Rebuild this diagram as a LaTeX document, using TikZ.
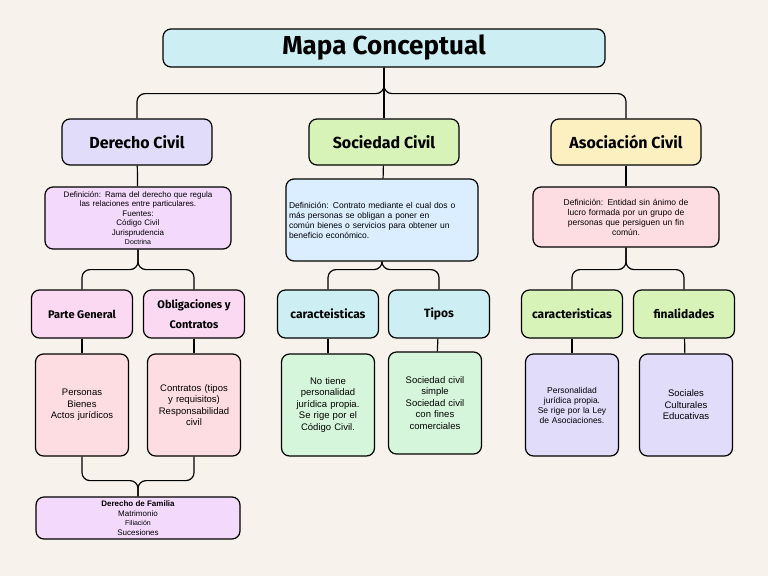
\documentclass[tikz,border=0pt]{standalone}
\usepackage{fontspec}
\setmainfont{Liberation Sans}
\newfontfamily\headfont{Fira Sans}
\usetikzlibrary{positioning,calc}
\definecolor{bgpaper}{HTML}{F7F3EC}
\definecolor{cyanfill}{HTML}{CDEFF3}
\definecolor{lavfill}{HTML}{E2DCFB}
\definecolor{greenfill}{HTML}{D8F3B8}
\definecolor{yellowfill}{HTML}{FDF0C0}
\definecolor{lilacfill}{HTML}{F3D9FB}
\definecolor{bluefill}{HTML}{DBEEFF}
\definecolor{rosefill}{HTML}{FDDDE2}
\definecolor{pinkfill}{HTML}{FBD9F3}
\definecolor{mintfill}{HTML}{D6F6DC}
\hyphenpenalty=10000
\exhyphenpenalty=10000
\begin{document}
\begin{tikzpicture}[
    x=1pt, y=-1pt,
    box/.style={rectangle, draw=black, line width=1.2pt, rounded corners=8pt, align=center, inner sep=2pt},
    head/.style={box, minimum width=150pt, minimum height=46pt, font=\headfont\bfseries\fontsize{16}{19}\selectfont},
    sub/.style={box, minimum width=101pt, minimum height=48pt, font=\headfont\bfseries\fontsize{12}{14}\selectfont},
    leaf/.style={box, minimum width=93pt, minimum height=102pt, text width=80pt, font=\fontsize{9.5}{11.5}\selectfont},
    defbox/.style={box, font=\fontsize{8.5}{10}\selectfont},
    link/.style={line width=1.2pt, rounded corners=8pt},
]
\fill[bgpaper] (0,0) rectangle (768,576);
\useasboundingbox (0,0) rectangle (768,576);

% Title
\node[box, fill=cyanfill, minimum width=442pt, minimum height=38pt, font=\headfont\bfseries\fontsize{26}{30}\selectfont] (title) at (384,48) {Mapa Conceptual};

% Level 1
\node[head, fill=lavfill] (dcivil) at (137,142) {Derecho Civil};
\node[head, fill=greenfill] (scivil) at (384,142) {Sociedad Civil};
\node[head, fill=yellowfill] (acivil) at (626,142) {Asociación Civil};

% Definitions
\node[defbox, fill=lilacfill, minimum width=186pt, minimum height=62pt, text width=182pt, font=\fontsize{8}{9.5}\selectfont] (dcdef) at (138,218)
    {Definición: Rama del derecho que regula\\las relaciones entre particulares.\\Fuentes:\\Código Civil\\Jurisprudencia\\{\fontsize{7}{8}\selectfont Doctrina}};
\node[defbox, fill=bluefill, minimum width=192pt, minimum height=82pt, text width=186pt, align=left] (scdef) at (382,220)
    {Definición: Contrato mediante el cual dos o\\más personas se obligan a poner en\\común bienes o servicios para obtener un\\beneficio económico.\\[22pt]};
\node[defbox, fill=rosefill, minimum width=186pt, minimum height=60pt, text width=150pt] (acdef) at (626,217)
    {Definición: Entidad sin ánimo de\\lucro formada por un grupo de\\personas que persiguen un fin\\común.};

% Level 2
\node[sub, fill=pinkfill, font=\headfont\bfseries\fontsize{11}{20}\selectfont] (parte) at (82,314) {Parte General};
\node[sub, fill=pinkfill, font=\headfont\bfseries\fontsize{11}{20}\selectfont] (oblig) at (194,314) {Obligaciones y\\Contratos};
\node[sub, fill=cyanfill] (scaract) at (328,314) {caracteisticas};
\node[sub, fill=cyanfill, text height=9pt, text depth=3pt] (tipos) at (439,314) {Tipos};
\node[sub, fill=greenfill] (acaract) at (572,314) {caracteristicas};
\node[sub, fill=greenfill] (final) at (684,314) {finalidades};

% Level 3
\node[leaf, fill=rosefill] (personas) at (82,405) {Personas\\Bienes\\Actos jurídicos\\[30pt]};
\node[leaf, fill=rosefill] (contratos) at (194,405) {Contratos (tipos\\y requisitos)\\Responsabilidad\\civil\\[20pt]};
\node[leaf, fill=mintfill] (notiene) at (328,405) {No tiene\\personalidad\\jurídica propia.\\Se rige por el\\Código Civil.};
\node[leaf, fill=mintfill] (simple) at (435,403) {Sociedad civil\\simple\\Sociedad civil\\con fines\\comerciales\\[8pt]};
\node[leaf, fill=lavfill, font=\fontsize{8.5}{10}\selectfont] (personal) at (572,405) {Personalidad\\jurídica propia.\\Se rige por la Ley\\de Asociaciones.\\[32pt]};
\node[leaf, fill=lavfill] (sociales) at (686,405) {Sociales\\Culturales\\Educativas\\[34pt]};

% Bottom
\node[defbox, fill=lilacfill, minimum width=204pt, minimum height=42pt, font=\fontsize{8}{9.5}\selectfont] (familia) at (138,518)
    {\textbf{Derecho de Familia}\\Matrimonio\\{\fontsize{7}{8}\selectfont Filiación}\\Sucesiones};

% Connectors
\draw[link] (title.south) -- ++(0,26) -| (dcivil.north);
\draw[link] (title.south) -- ++(0,26) -| (acivil.north);
\draw[link] (title.south) -- (scivil.north);
\draw[link] (dcivil) -- (dcdef);
\draw[link] (scivil) -- (scdef);
\draw[link] (acivil) -- (acdef);
\draw[link] (dcdef.south) -- ++(0,20) -| (parte.north);
\draw[link] (dcdef.south) -- ++(0,20) -| (oblig.north);
\draw[link] (scdef.south) -- ++(0,8) -| (scaract.north);
\draw[link] (scdef.south) -- ++(0,8) -| (tipos.north);
\draw[link] (acdef.south) -- ++(0,22) -| (acaract.north);
\draw[link] (acdef.south) -- ++(0,22) -| (final.north);
\draw[link] (parte) -- (personas);
\draw[link] (oblig) -- (contratos);
\draw[link] (scaract) -- (notiene);
\draw[link] (tipos) -- (simple);
\draw[link] (acaract) -- (personal);
\draw[link] (final) -- (sociales);
\draw[link] (personas.south) -- ++(0,24) -| (familia.north);
\draw[link] (contratos.south) -- ++(0,24) -| (familia.north);
\end{tikzpicture}
\end{document}
